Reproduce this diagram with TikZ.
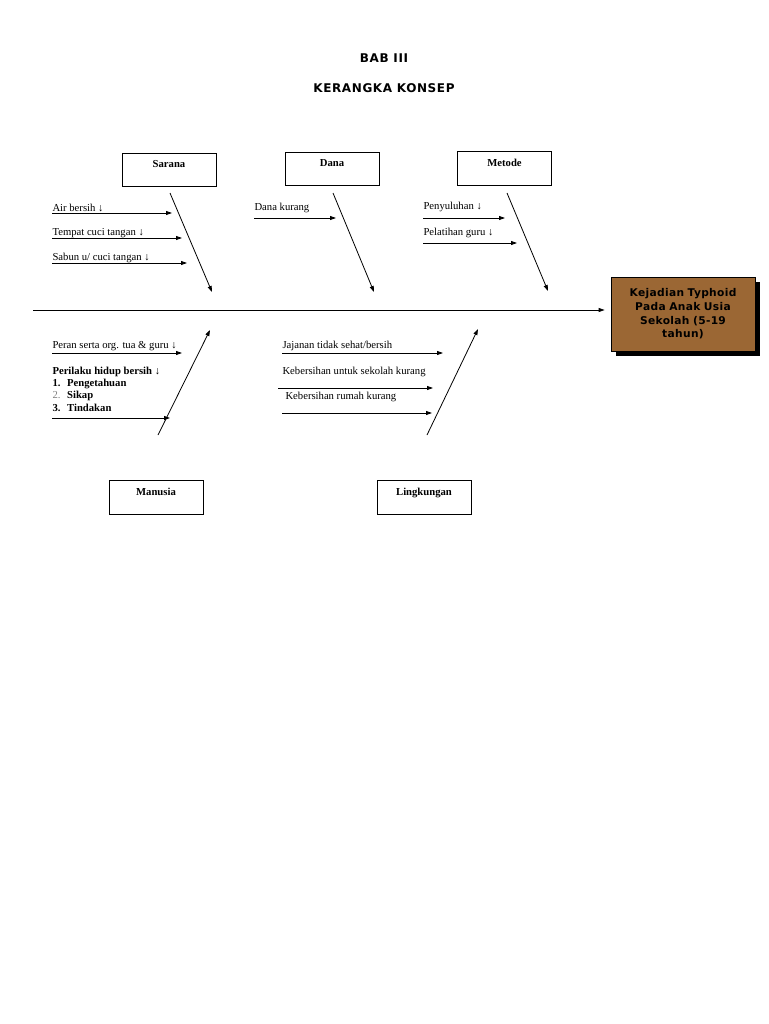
\documentclass[tikz,border=0pt]{standalone}
\usepackage{fontspec}
\setmainfont{Liberation Serif}
\newfontfamily\dejavu{DejaVu Sans}
\usetikzlibrary{arrows.meta,positioning,backgrounds}
\definecolor{effectbrown}{RGB}{155,103,52}
\tikzset{every picture/.style={line width=0.75pt}}
\tikzset{
  catbox/.style={draw, line width=0.6pt, minimum width=70.5pt, minimum height=25pt, inner sep=0pt},
  cattext/.style={font=\fontsize{8}{9.5}\selectfont\bfseries, inner sep=0pt, anchor=north},
  lbl/.style={font=\fontsize{8}{9.5}\selectfont, anchor=base west, inner sep=0pt},
  bone/.style={line width=0.6pt, -{Triangle[length=4.5pt,width=3pt]}},
  titletext/.style={font=\dejavu\bfseries\fontsize{9}{11}\selectfont\addfontfeature{LetterSpace=5}},
}

\begin{document}
\begin{tikzpicture}[x=0.75pt,y=0.75pt,yscale=-1,xscale=1]
\path[use as bounding box] (0,0) rectangle (768,1024);

% Title
\node (bab) at (384,58) [titletext] {BAB III};
\node (judul) at (384,88) [titletext] {KERANGKA KONSEP};

% Category boxes
\node (sarana) at (169,170) [catbox] {};
\node (sarana-t) [cattext, below=5.5pt of sarana.north] {Sarana};
\node (dana) at (332,169) [catbox] {};
\node (dana-t) [cattext, below=5.5pt of dana.north] {Dana};
\node (metode) at (504.5,168.5) [catbox] {};
\node (metode-t) [cattext, below=5.5pt of metode.north] {Metode};
\node (manusia) at (156,497.5) [catbox] {};
\node (manusia-t) [cattext, below=5.5pt of manusia.north] {Manusia};
\node (lingkungan) at (424,497.5) [catbox] {};
\node (lingkungan-t) [cattext, below=5.5pt of lingkungan.north] {Lingkungan};

% Effect box
\node (effect) at (683,314) [draw, line width=0.6pt, fill=effectbrown, minimum width=108pt, minimum height=55.5pt, text width=100pt, align=center, inner sep=0pt, font=\dejavu\bfseries\fontsize{8}{10.2}\selectfont\addfontfeature{LetterSpace=3}] {Kejadian Typhoid\\Pada Anak Usia\\Sekolah (5-19\\tahun)};
\begin{scope}[on background layer]
\fill[black] ([shift={(5,5)}]effect.south west) rectangle ([shift={(5,5)}]effect.north east);
\end{scope}

% Spine
\coordinate (spine) at (33,310);
\draw[bone] (spine) -- ([xshift=-4.5pt]spine -| effect.west);

% Bones
\coordinate (sarana-a) at (170,193);
\coordinate (sarana-b) at (212,292);
\coordinate (dana-a) at (333,193);
\coordinate (dana-b) at (374,292);
\coordinate (metode-a) at (507,193);
\coordinate (metode-b) at (548,291);
\coordinate (manusia-a) at (158,435);
\coordinate (manusia-b) at (210,330);
\coordinate (lingkungan-a) at (427,435);
\coordinate (lingkungan-b) at (478,329);
\foreach \b in {sarana,dana,metode,manusia,lingkungan}
  \draw[bone] (\b-a) -- (\b-b);

% Sarana causes
\node (air) at (52,211) [lbl] {Air bersih ↓};
\coordinate (s1a) at (52,213); \coordinate (s1b) at (172,213);
\node (tempat) at (52,235) [lbl] {Tempat cuci tangan ↓};
\coordinate (s2a) at (52,238); \coordinate (s2b) at (182,238);
\node (sabun) at (52,260) [lbl] {Sabun u/ cuci tangan ↓};
\coordinate (s3a) at (52,263); \coordinate (s3b) at (187,263);

% Dana causes
\node (danakurang) at (254,210) [lbl] {Dana kurang};
\coordinate (d1a) at (254,218); \coordinate (d1b) at (336,218);

% Metode causes
\node (penyuluhan) at (423,209) [lbl] {Penyuluhan ↓};
\coordinate (m1a) at (423,218); \coordinate (m1b) at (505,218);
\node (pelatihan) at (423,235) [lbl] {Pelatihan guru ↓};
\coordinate (m2a) at (423,243); \coordinate (m2b) at (517,243);

% Manusia causes
\node (peran) at (52,348) [lbl] {Peran serta org. tua \& guru ↓};
\coordinate (h1a) at (52,353); \coordinate (h1b) at (182,353);
\node (perilaku) at (52,374) [lbl] {\textbf{Perilaku hidup bersih} ↓};
\node (tahu) at (52,386) [lbl, font=\fontsize{8}{9.5}\selectfont\bfseries] {\makebox[11pt][l]{1.}Pengetahuan};
\node (sikap) at (52,398.5) [lbl] {\makebox[11pt][l]{\color{gray}2.}\textbf{Sikap}};
\node (tindakan) at (52,411) [lbl, font=\fontsize{8}{9.5}\selectfont\bfseries] {\makebox[11pt][l]{3.}Tindakan};
\coordinate (h2a) at (52,418); \coordinate (h2b) at (170,418);

% Lingkungan causes
\node (jajanan) at (282,348) [lbl] {Jajanan tidak sehat/bersih};
\coordinate (l1a) at (282,353); \coordinate (l1b) at (443,353);
\node (sekolah) at (282,374) [lbl] {Kebersihan untuk sekolah kurang};
\coordinate (l2a) at (278,388); \coordinate (l2b) at (433,388);
\node (rumah) at (285,399) [lbl] {Kebersihan rumah kurang};
\coordinate (l3a) at (282,413); \coordinate (l3b) at (432,413);

\foreach \c in {s1,s2,s3,d1,m1,m2,h1,h2,l1,l2,l3}
  \draw[bone] (\c a) -- (\c b);

\end{tikzpicture}
\end{document}
